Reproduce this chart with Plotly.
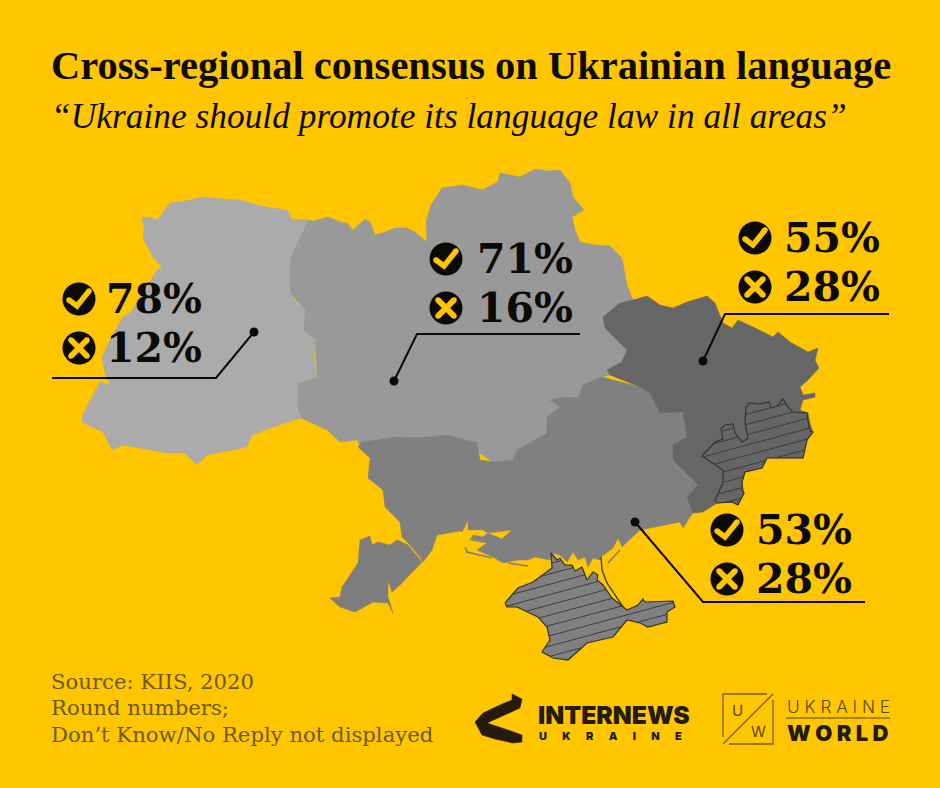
import numpy as np
import plotly.graph_objects as go

# survey values
regions = ["West", "Center", "East", "South"]
agree = [78, 71, 55, 53]
disagree = [12, 16, 28, 28]

title = "Cross-regional consensus on Ukrainian language"
subtitle = "“Ukraine should promote its language law in all areas”"
source_lines = ["Source: KIIS, 2020", "Round numbers;", "Don’t Know/No Reply not displayed"]

# outlines, in picture pixels
west_x = [142, 150, 157, 163, 170, 185, 203, 222, 240, 257, 272, 287, 292, 300, 308, 300, 290, 290, 296, 305, 303, 315, 314, 317, 298, 297, 301, 273, 252, 247, 207, 197, 185, 167, 146, 123, 112, 103, 82, 82, 91, 100, 110, 105, 102, 112, 123, 130, 144, 157, 162, 153, 143, 144]
west_y = [218, 217, 220, 212, 203, 201, 197, 199, 200, 205, 208, 210, 220, 219, 220, 237, 258, 293, 302, 310, 330, 340, 358, 377, 383, 407, 418, 427, 435, 447, 455, 465, 453, 453, 449, 445, 450, 432, 422, 417, 399, 382, 385, 373, 357, 336, 317, 313, 292, 270, 267, 257, 238, 228]

center_x = [300, 308, 313, 322, 328, 340, 347, 353, 358, 365, 370, 375, 385, 395, 407, 415, 427, 426, 431, 440, 442, 463, 482, 498, 500, 520, 535, 548, 560, 570, 573, 584, 572, 575, 580, 595, 610, 622, 627, 633, 640, 640, 610, 602, 583, 578, 563, 550, 560, 547, 547, 517, 513, 492, 475, 450, 417, 397, 362, 357, 340, 327, 301, 297, 298, 317, 315, 303, 305, 290, 290]
center_y = [237, 220, 221, 219, 217, 222, 223, 230, 225, 219, 222, 235, 232, 228, 228, 232, 242, 222, 205, 190, 188, 185, 190, 182, 173, 177, 169, 171, 170, 183, 197, 210, 217, 230, 242, 245, 246, 258, 285, 300, 310, 380, 375, 377, 385, 398, 397, 400, 407, 417, 433, 450, 460, 462, 450, 437, 445, 445, 450, 440, 442, 430, 418, 407, 383, 377, 340, 330, 310, 293, 258]

south_x = [358, 362, 397, 417, 447, 477, 480, 493, 513, 517, 547, 547, 560, 550, 563, 578, 583, 602, 640, 650, 660, 683, 687, 673, 673, 698, 687, 693, 690, 683, 680, 648, 640, 627, 622, 618, 613, 601, 600, 593, 588, 585, 578, 573, 567, 560, 552, 550, 535, 528, 518, 503, 493, 477, 487, 470, 473, 483, 488, 502, 512, 488, 483, 480, 478, 482, 483, 468, 468, 462, 460, 437, 432, 423, 420, 408, 402, 400, 385, 383, 368, 370]
south_y = [447, 442, 437, 438, 435, 443, 460, 462, 460, 450, 433, 417, 407, 400, 397, 398, 385, 377, 387, 393, 413, 412, 437, 445, 460, 485, 497, 513, 517, 528, 522, 528, 530, 542, 547, 538, 548, 557, 560, 558, 567, 557, 560, 552, 562, 555, 553, 560, 557, 560, 560, 563, 557, 550, 543, 540, 535, 537, 533, 539, 530, 533, 530, 517, 500, 517, 530, 530, 520, 532, 531, 535, 550, 562, 557, 543, 537, 522, 507, 490, 478, 458]

east_x = [633, 647, 660, 673, 687, 707, 715, 723, 732, 738, 753, 773, 778, 790, 808, 818, 815, 819, 808, 800, 803, 815, 815, 803, 800, 808, 810, 813, 807, 803, 767, 762, 745, 742, 744, 738, 732, 717, 703, 693, 687, 698, 673, 673, 687, 683, 660, 650, 640, 610, 607, 622, 627, 605, 603, 620]
east_y = [300, 296, 305, 308, 302, 296, 303, 323, 328, 320, 327, 337, 332, 342, 352, 348, 360, 368, 380, 387, 395, 393, 397, 400, 410, 413, 423, 432, 440, 458, 458, 468, 472, 482, 493, 505, 502, 503, 512, 513, 497, 485, 460, 445, 437, 412, 413, 393, 387, 375, 370, 362, 350, 328, 317, 303]

odesa_x = [330, 340, 342, 353, 358, 360, 370, 372, 378, 390, 397, 408, 422, 400, 392, 388, 388, 393, 388, 373, 355, 340]
odesa_y = [598, 597, 587, 570, 563, 540, 536, 545, 542, 545, 540, 545, 562, 585, 592, 580, 597, 613, 603, 602, 612, 607]

donetsk_x = [702, 715, 723, 721, 725, 733, 735, 742, 748, 745, 746, 750, 760, 769, 771, 777, 783, 788, 793, 807, 808, 810, 813, 807, 803, 767, 762, 745, 742, 742, 744, 738, 732, 717, 715, 723, 723]
donetsk_y = [456, 442, 439, 429, 425, 424, 433, 442, 438, 423, 407, 403, 404, 402, 408, 406, 399, 407, 412, 413, 422, 431, 432, 440, 458, 458, 468, 472, 482, 490, 493, 505, 502, 503, 500, 483, 470]

crimea_x = [505, 518, 533, 552, 551, 557, 560, 565, 572, 575, 582, 587, 593, 598, 597, 603, 612, 627, 638, 643, 645, 673, 675, 667, 667, 648, 640, 627, 613, 587, 568, 553, 542, 550, 547, 538, 517, 507]
crimea_y = [603, 588, 582, 568, 553, 560, 558, 565, 565, 571, 567, 580, 572, 575, 580, 585, 598, 610, 605, 599, 602, 601, 607, 612, 622, 627, 623, 620, 637, 643, 660, 658, 652, 640, 627, 617, 607, 607]

# thin sand spits along the coast
spit_x = [465, 467, 492, None, 508, 528, None, 620, 608]
spit_y = [547, 552, 558, None, 563, 566, None, 550, 563]
arabat_x = [601, 602, 607, 625]
arabat_y = [557, 570, 583, 610]

swoosh_x = [512, 522, 520, 500, 487, 505, 522, 522, 513, 495, 482, 475, 483, 500, 512]
swoosh_y = [694, 699, 708, 717, 723, 729, 735, 742, 743, 739, 735, 722, 713, 705, 700]

BG = "#ffc600"
INK = "#0c0a05"
LOGO = "#231b0b"
FONT = "Liberation Serif"


def hatch(xs, ys, slope=0.27, step=10.3):
    # clip slanted lines to a polygon, gives the striped look of the occupied areas
    xs, ys = np.array(xs, float), np.array(ys, float)
    x2, y2 = np.roll(xs, -1), np.roll(ys, -1)
    out_x, out_y = [], []
    c0 = ys + slope * xs
    for c in np.arange(c0.min(), c0.max(), step):
        d1 = ys + slope * xs - c
        d2 = y2 + slope * x2 - c
        hit = d1 * d2 < 0
        t = d1[hit] / (d1[hit] - d2[hit])
        px = np.sort(xs[hit] + t * (x2[hit] - xs[hit]))
        for a, b in zip(px[::2], px[1::2]):
            out_x += [a, b, None]
            out_y += [c - slope * a, c - slope * b, None]
    return out_x, out_y


fig = go.Figure()


def poly(xs, ys, color):
    fig.add_trace(go.Scatter(x=xs + xs[:1], y=ys + ys[:1], mode="lines", fill="toself",
                             fillcolor=color, line=dict(color=color, width=0.5), hoverinfo="skip"))


def line(xs, ys, color=INK, width=2):
    fig.add_trace(go.Scatter(x=xs, y=ys, mode="lines", line=dict(color=color, width=width), hoverinfo="skip"))


def label(x, y, text, size, color=INK, family=FONT, anchor="left", weight=None, italic=False):
    fig.add_annotation(x=x, y=y, text=text, showarrow=False, xanchor=anchor, yanchor="middle",
                       borderpad=0, font=dict(family=family, size=size, color=color, weight=weight,
                                              style="italic" if italic else "normal"))


# map
poly(center_x, center_y, "#999999")
poly(west_x, west_y, "#ababab")
poly(south_x, south_y, "#808080")
poly(east_x, east_y, "#666666")
poly(odesa_x, odesa_y, "#7d7d7d")
line(spit_x, spit_y, "#7d7d7d", 1.5)
line(arabat_x, arabat_y, "#4d4a35", 1.5)

for px, py, fill in [(donetsk_x, donetsk_y, "#666666"), (crimea_x, crimea_y, "#808080")]:
    fig.add_trace(go.Scatter(x=px + px[:1], y=py + py[:1], mode="lines", fill="toself", fillcolor=fill,
                             line=dict(color="#333333", width=1.2), hoverinfo="skip"))
    hx, hy = hatch(px, py)
    line(hx, hy, "#3c3c3c", 1)

# leader lines, one per region
leader_x = [[52, 216, 254], [580, 417, 394], [889, 725, 703], [865, 703, 635]]
leader_y = [[378, 378, 332], [334, 334, 381], [314, 314, 361], [602, 602, 522]]
icon_x = [79, 446, 755, 727]
icon_top = [299, 259, 238, 530]
text_x = [105, 476, 783, 755]
GAP = 49

for i, name in enumerate(regions):
    line(leader_x[i], leader_y[i], INK, 2)
    fig.add_trace(go.Scatter(x=[leader_x[i][2]], y=[leader_y[i][2]], mode="markers",
                             marker=dict(color=INK, size=9), hoverinfo="skip", name=name))
    cx, cy = icon_x[i], icon_top[i]
    fig.add_trace(go.Scatter(x=[cx, cx], y=[cy, cy + GAP], mode="markers",
                             marker=dict(color=INK, size=33), hoverinfo="skip"))
    # tick and cross inside the round badges
    tx = [cx - 10, cx - 2, cx + 10]
    ty = [cy + 1, cy + 7, cy - 8]
    line(tx, ty, BG, 5.5)
    ky = cy + GAP
    line([cx - 8, cx + 8, None, cx - 8, cx + 8], [ky - 8, ky + 8, None, ky + 8, ky - 8], BG, 6)
    fig.add_trace(go.Scatter(x=[tx[0], tx[2], cx - 8, cx + 8, cx - 8, cx + 8],
                             y=[ty[0], ty[2], ky - 8, ky + 8, ky + 8, ky - 8], mode="markers",
                             marker=dict(color=BG, size=5.5), hoverinfo="skip"))
    label(text_x[i], cy, f"{agree[i]}%", 41, family="DejaVu Serif", weight=700)
    label(text_x[i], cy + GAP, f"{disagree[i]}%", 41, family="DejaVu Serif", weight=700)

# headings and footer
label(50, 65, title, 40.5, weight=700)
label(50, 116, subtitle, 35.4, italic=True)
for n, txt in enumerate(source_lines):
    label(50, 681 + 26.5 * n, txt, 21.2, color="#6a5a1c", family="DejaVu Serif")

# Internews logo
poly(swoosh_x, swoosh_y, LOGO)
label(537, 715, "INTERNEWS", 24.7, color=LOGO, family="Inter", weight=900)
label(538, 736, ("\u00a0" * 7).join("UKRAINE"), 11, color=LOGO, family="Inter", weight=900)

# Ukraine World logo
line([767, 723, 723], [694, 694, 737], "#7a6012", 1.3)
line([773, 773, 729], [700, 744, 744], "#7a6012", 1.3)
line([773, 723], [694, 744], "#7a6012", 1.3)
label(737, 710, "U", 15, color="#5a4710", family="Inter", anchor="center")
label(758, 731, "W", 15, color="#5a4710", family="Inter", anchor="center")
label(786, 706, "\u00a0".join("UKRAINE"), 17.2, color="#5a4710", family="Inter", weight=300)
line([786, 890], [718, 718], "#a98610", 2)
label(786, 733, "\u00a0".join("WORLD"), 22, color=LOGO, family="Inter", weight=900)

fig.update_layout(
    width=940, height=788, margin=dict(l=0, r=0, t=0, b=0),
    paper_bgcolor=BG, plot_bgcolor=BG, showlegend=False,
    xaxis=dict(range=[0, 940], visible=False, fixedrange=True),
    yaxis=dict(range=[788, 0], visible=False, fixedrange=True),
)
fig.write_html("out.html", config=dict(displayModeBar=False), post_script="document.body.style.margin='0';")
